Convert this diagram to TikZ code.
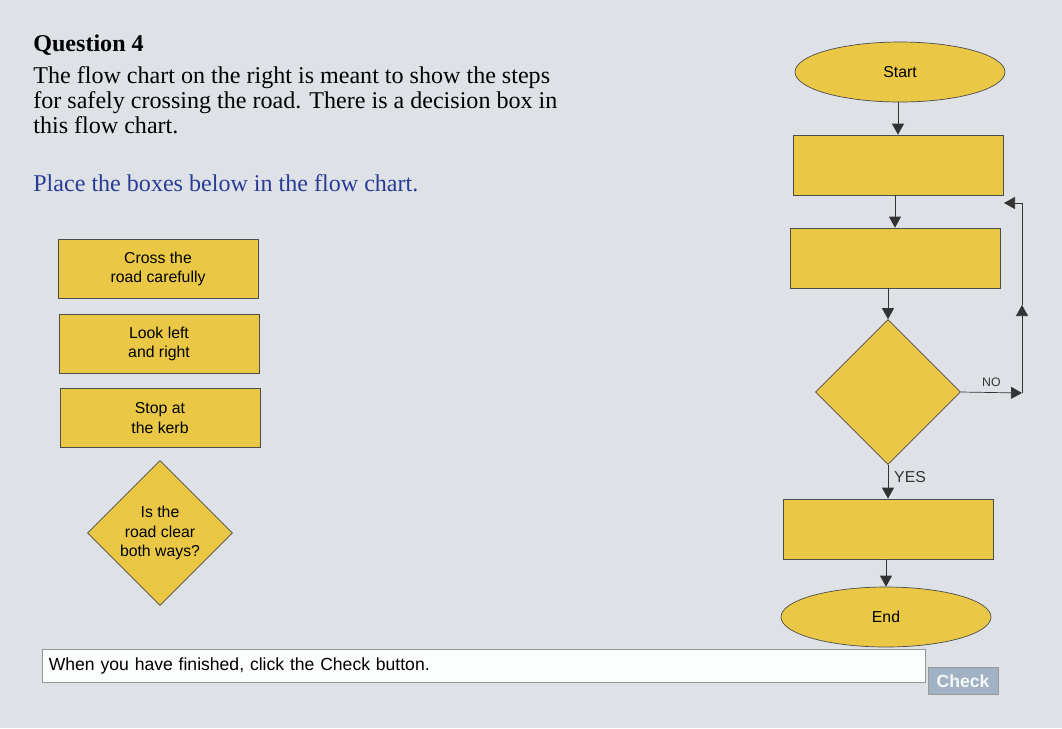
\documentclass[tikz,border=0pt]{standalone}
\usepackage{fontspec}
\setmainfont{Liberation Serif}
\newfontfamily\boxfont{Liberation Sans}
\usetikzlibrary{arrows.meta, positioning, shapes.geometric}
\definecolor{screengray}{RGB}{222,226,231}
\definecolor{boxyellow}{RGB}{234,200,70}
\definecolor{linkblue}{RGB}{40,60,150}
\definecolor{btngray}{RGB}{160,178,196}

\begin{document}
\begin{tikzpicture}[
  x=0.02cm, y=-0.02cm,
  > = {Triangle[length=2.2mm, width=2.4mm]},
  card/.style = {draw=black!70, fill=boxyellow, minimum width=4cm, minimum height=1.18cm, font=\boxfont\small, align=center},
  chart box/.style = {draw=black!70, fill=boxyellow, minimum width=4.2cm, minimum height=1.2cm},
  decide/.style = {diamond, draw=black!70, fill=boxyellow, minimum width=2.9cm, minimum height=2.9cm, aspect=1, inner sep=0pt, font=\boxfont\small, align=center},
  oval/.style = {ellipse, draw=black!70, fill=boxyellow, minimum width=4.2cm, minimum height=1.2cm, font=\boxfont\small},
  flow/.style = {->, black!80, thin},
  big/.style = {font=\fontsize{13.7}{14.2}\selectfont}
]
  \fill[screengray] (0,0) rectangle (1062,728);

  % question text
  \node[anchor=west, font=\fontsize{13.7}{14.2}\selectfont\bfseries, inner sep=0pt] (title) at (33,45) {Question 4};
  \node[anchor=north west, align=left, big, inner sep=0pt] (intro) at (33,66)
    {The flow chart on the right is meant to show the steps\\
     for safely crossing the road. There is a decision box in\\
     this flow chart.};
  \node[anchor=west, big, text=linkblue, inner sep=0pt] (task) at (33,183) {Place the boxes below in the flow chart.};

  % boxes to place
  \node[card] (cross) at (158,269) {Cross the\\road carefully};
  \node[card] (look) at (159,344) {Look left\\and right};
  \node[card] (stop) at (160,418) {Stop at\\the kerb};
  \node[decide] (clear) at (160,533) {Is the\\road clear\\both ways?};

  % flow chart
  \node[oval] (start) at (900,72) {Start};
  \node[chart box] (stepA) at (898,165) {};
  \node[chart box] (stepB) at (895,258) {};
  \node[decide] (ask) at (888,392) {};
  \node[chart box] (stepC) at (888,529) {};
  \node[oval] (end) at (886,617) {End};

  \draw[flow] (stepA.north |- start.south) -- (stepA.north);
  \draw[flow] (stepB.north |- stepA.south) -- (stepB.north);
  \draw[flow] (ask.north |- stepB.south) -- (ask.north);
  \draw[flow] (ask.south) -- node[right, pos=0.35, font=\boxfont\small] {YES} (stepC.north -| ask.south);
  \draw[flow] (end.north |- stepC.south) -- (end.north);

  \coordinate (loopA) at (1022,393);
  \coordinate (loopB) at (1022,203);
  \coordinate (loopC) at (1004,203);
  \draw[flow] (ask.east) -- node[above, font=\boxfont\scriptsize] {NO} (loopA);
  \draw[flow] (loopA) -- (1022,305);
  \draw[black!80, thin] (1022,305) -- (loopB);
  \draw[flow] (loopB) -- (loopC);

  % bottom bar
  \node[draw=black!40, fill=white!92!screengray, minimum width=17.66cm, minimum height=0.66cm, anchor=west,
        font=\boxfont, text width=17.4cm, align=left] (hint) at (42,666)
    {When you have finished, click the Check button.};
  \node[draw=black!40, fill=btngray, text=white!90!btngray, minimum width=1.4cm, minimum height=0.54cm,
        font=\boxfont\bfseries, inner sep=1pt] (check) at (963,681) {Check};
\end{tikzpicture}
\end{document}
